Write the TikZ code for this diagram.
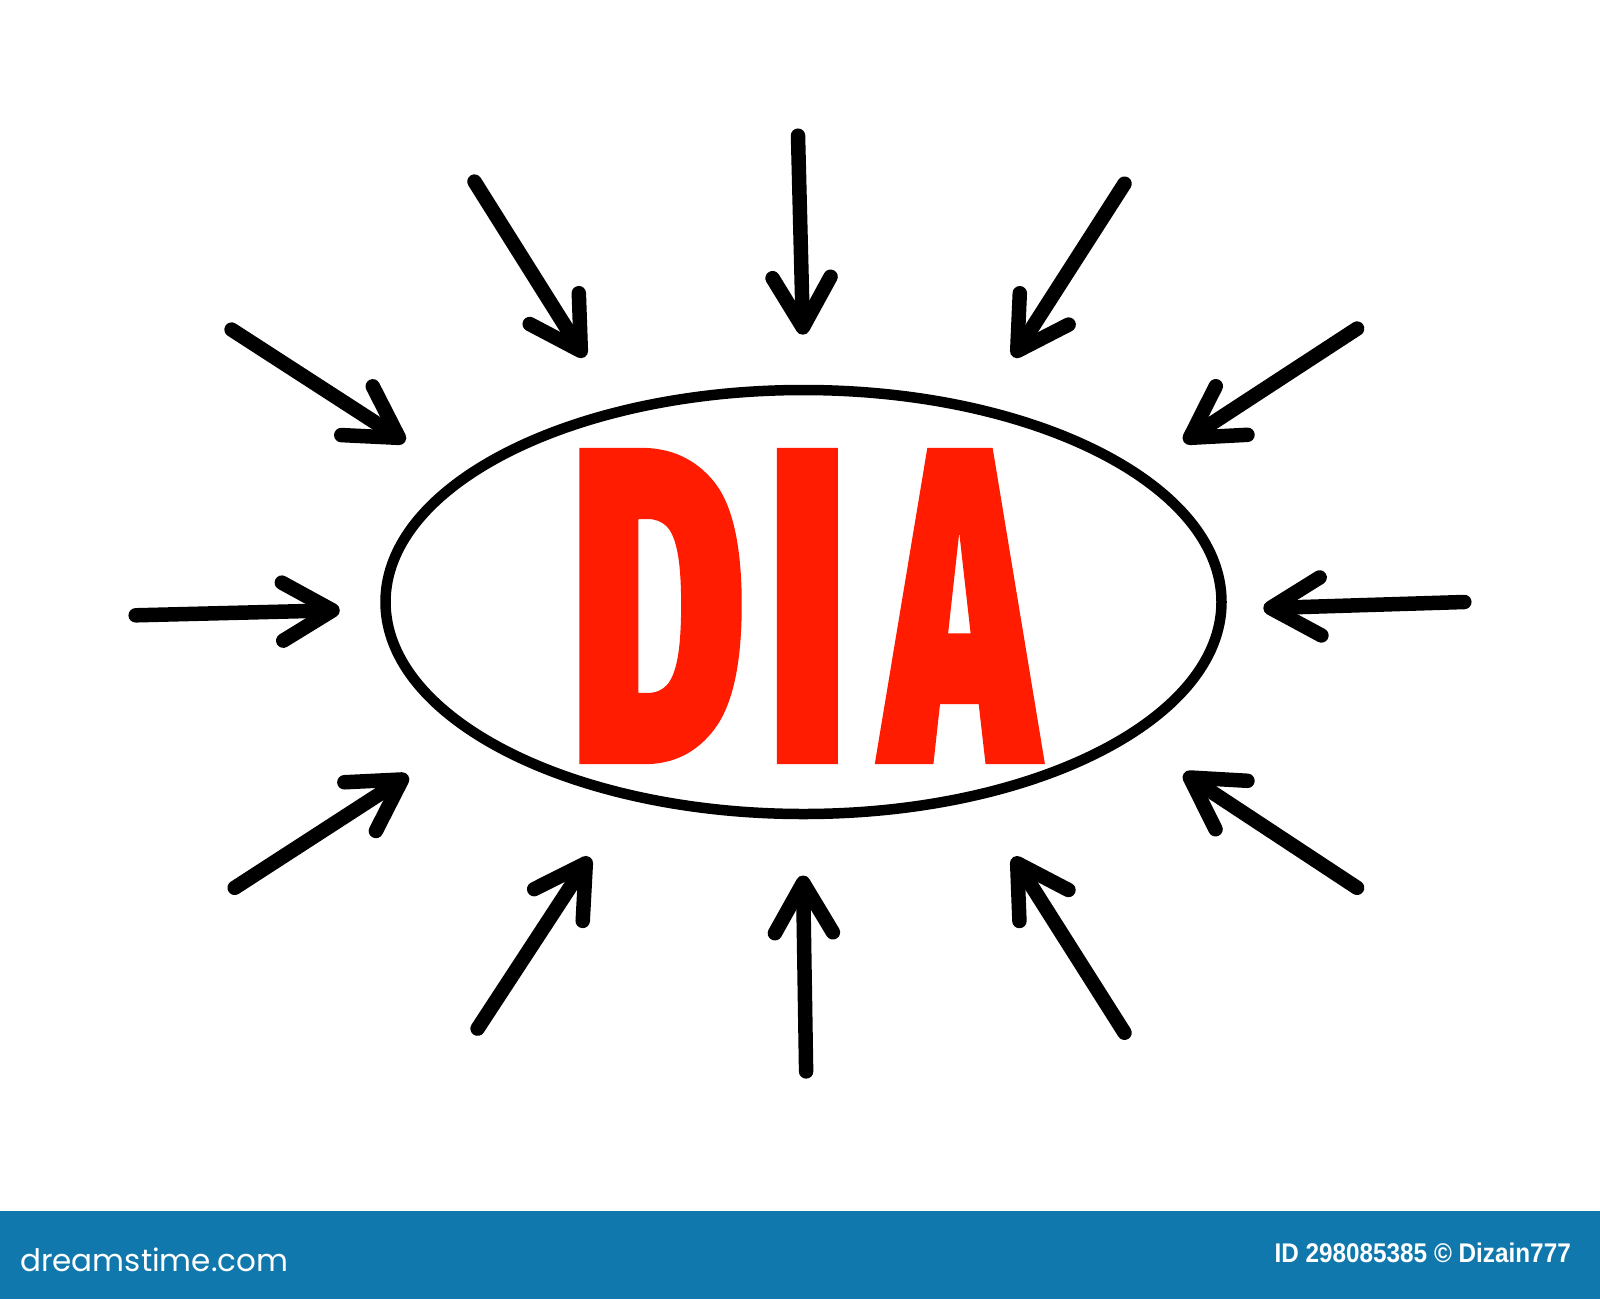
\documentclass[tikz,border=0pt]{standalone}
\usepackage{fontspec}
\usetikzlibrary{arrows.meta,shapes.geometric}
\setmainfont{Fira Sans}
\newfontfamily\diafont[FakeBold=1.5]{Fira Sans Bold}
\newfontfamily\logofont{Poppins}
\newfontfamily\idfont{Liberation Sans}
\definecolor{diared}{RGB}{255,28,0}
\definecolor{barblue}{RGB}{16,120,172}
\tikzset{
  inarrow/.style={line width=14.5pt, line cap=round, line join=round,
    -{Straight Barb[length=50pt, width=58pt, line cap=round, line join=round]}},
  oval/.style={draw, ellipse, line width=10.5pt, minimum width=836pt, minimum height=424pt, inner sep=0pt},
}
\begin{document}
\begin{tikzpicture}[x=1pt,y=-1pt]
\useasboundingbox (0,0) rectangle (1600,1299);
\fill[white] (0,0) rectangle (1600,1299);
% central ellipse
\node[oval] (ov) at (803.5,602) {};
\node[text=diared, font=\diafont\bfseries\fontsize{445}{445}\selectfont, inner sep=0pt] (dia) at (803,606)
  {\scalebox{0.6}[1]{D}\kern22pt\scalebox{0.62}[1]{I}\kern36pt\scalebox{0.57}[1]{A}};
% arrow coordinates
\coordinate (t1) at (474.5,181.6);  \coordinate (h1) at (584.7,357.1);
\coordinate (t2) at (798,135.7);    \coordinate (h2) at (803,334.7);
\coordinate (t3) at (1124.5,183.7); \coordinate (h3) at (1013.3,357.1);
\coordinate (t4) at (1357.1,328.6); \coordinate (h4) at (1183.7,441.8);
\coordinate (t5) at (1464.3,602);   \coordinate (h5) at (1263.3,608.2);
\coordinate (t6) at (1357.1,887.8); \coordinate (h6) at (1183.7,773.5);
\coordinate (t7) at (1124.5,1032.7);\coordinate (h7) at (1013.3,857.1);
\coordinate (t8) at (806.1,1071.4); \coordinate (h8) at (803,875.5);
\coordinate (t9) at (477.6,1028.6); \coordinate (h9) at (589.8,857.1);
\coordinate (t10) at (234.7,887.8); \coordinate (h10) at (408.2,775.5);
\coordinate (t11) at (135.7,615.3); \coordinate (h11) at (339.8,610.2);
\coordinate (t12) at (231.6,329.6); \coordinate (h12) at (405.1,441.8);
\foreach \i in {1,...,12} { \draw[inarrow] (t\i) -- (h\i); }
% footer bar
\fill[barblue] (0,1211) rectangle (1600,1299);
\node[anchor=west, text=white, font=\logofont\fontsize{31}{31}\selectfont, inner sep=0pt] (logo) at (20,1260) {dreamstime.com};
\node[anchor=east, text=white, font=\idfont\bfseries\fontsize{27}{27}\selectfont, inner sep=0pt] (idtxt) at (1571,1253) {\scalebox{0.9}[1]{ID 298085385 © Dizain777}};
\end{tikzpicture}
\end{document}
